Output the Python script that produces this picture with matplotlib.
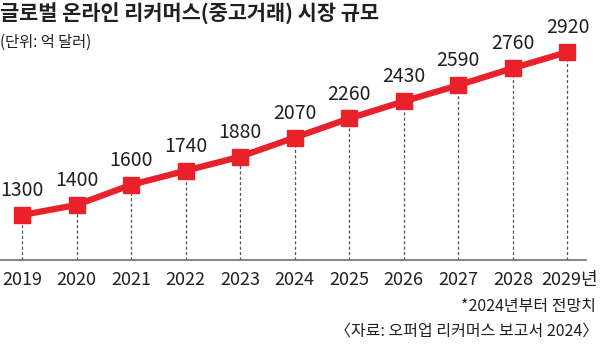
import matplotlib
matplotlib.use('Agg')
import matplotlib.pyplot as plt
import matplotlib.transforms as mtransforms

plt.rcParams['font.family'] = ['Noto Sans CJK KR', 'DejaVu Sans']

# data
years = [2019, 2020, 2021, 2022, 2023, 2024, 2025, 2026, 2027, 2028, 2029]
values = [1300, 1400, 1600, 1740, 1880, 2070, 2260, 2430, 2590, 2760, 2920]
year_labels = [str(y) for y in years[:-1]] + ['2029년']

title = '글로벌 온라인 리커머스(중고거래) 시장 규모'
unit = '(단위: 억 달러)'
note1 = '*2024년부터 전망치'
note2 = '〈자료: 오퍼업 리커머스 보고서 2024〉'

red = '#e8212b'
dark = '#231f20'

fig = plt.figure(figsize=(6, 3.48), dpi=100)
ax = fig.add_axes([0, 88 / 348, 586 / 600, 230 / 348])
ax.set_xlim(2018.597, 2029.34)
ax.set_ylim(853, 3139)
ax.axis('off')

# baseline
ax.axhline(853, color='#6d6e70', lw=1.2, clip_on=False)

# dotted drop lines
ax.vlines(years, 853, values, colors='#555555', linestyles=(0, (2.5, 1.8)), lw=0.9, zorder=1)

# line with square markers
ax.plot(years, values, color=red, lw=4.5, marker='s', markersize=11, zorder=3)

for x, v in zip(years, values):
    ax.annotate(str(v), (x, v), xytext=(0, 10), textcoords='offset points',
                ha='center', va='bottom', fontsize=14, color=dark)

# x labels (last one carries the unit, right-aligned to the edge)
trans = mtransforms.blended_transform_factory(ax.transData, fig.transFigure)
for x, lab in zip(years[:-1], year_labels[:-1]):
    ax.text(x, 1 - 280 / 348, lab, transform=trans, ha='center', va='center',
            fontsize=13, color=dark)
fig.text(598 / 600, 1 - 280 / 348, year_labels[-1], ha='right', va='center',
         fontsize=13, color=dark)

# titles and notes
fig.text(0.0, 1 - 14 / 348, title, ha='left', va='center', fontsize=15,
         fontweight='bold', color=dark)
fig.text(0.0, 1 - 42 / 348, unit, ha='left', va='center', fontsize=11, color=dark)
fig.text(596 / 600, 1 - 306 / 348, note1, ha='right', va='center', fontsize=11.5, color=dark)
fig.text(598 / 600, 1 - 331 / 348, note2, ha='right', va='center', fontsize=11.5, color=dark)

fig.savefig('out.png', dpi=100)
